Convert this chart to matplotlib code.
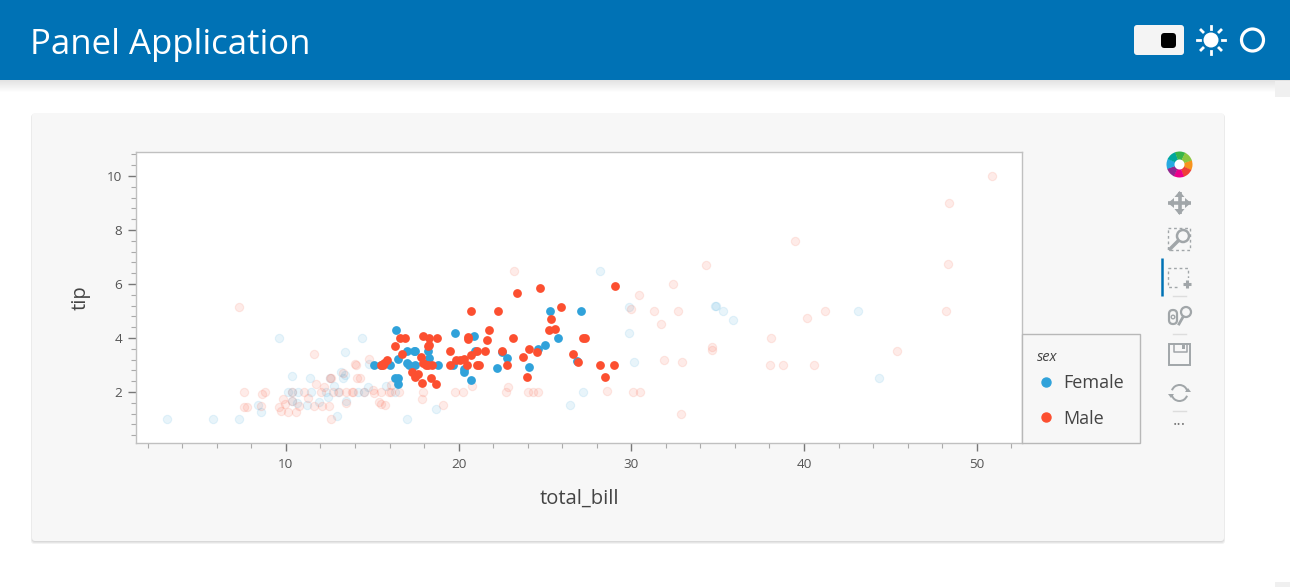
import matplotlib
matplotlib.use("Agg")
import matplotlib.pyplot as plt
from matplotlib.lines import Line2D
from matplotlib.patches import Rectangle, FancyBboxPatch, Circle, Wedge, Polygon
from matplotlib.ticker import MultipleLocator

plt.rcParams['font.family'] = ['Open Sans', 'DejaVu Sans']

# selected points
female_bill = [16.35, 15.1, 15.5, 16.0, 16.5, 17.0, 17.4, 17.5, 17.0, 17.1, 17.5, 16.3, 16.5, 16.47, 18.2, 18.3,
               18.8, 19.8, 20.9, 19.7, 20.3, 20.3, 20.7, 20.95, 22.2, 22.5, 22.8, 24.1, 24.6, 25.0, 25.75, 25.3,
               27.1, 26.87]
female_tip = [4.3, 3.0, 3.0, 3.0, 3.22, 3.5, 3.5, 3.5, 3.06, 3.0, 3.0, 2.5, 2.5, 2.3, 3.5, 3.25,
              3.0, 4.18, 4.08, 3.0, 2.84, 2.75, 2.45, 3.5, 2.9, 3.48, 3.26, 2.92, 3.6, 3.74, 4.0, 5.0,
              5.0, 3.15]
male_bill = [16.6, 16.87, 16.3, 15.85, 15.7, 15.5, 15.6, 16.7, 17.95, 18.3, 18.75, 18.3, 18.25, 17.8, 17.95, 18.09,
             18.24, 18.43, 17.3, 17.5, 17.65, 17.86, 18.4, 18.7, 19.5, 19.48, 19.85, 20.08, 20.33, 20.7, 20.48, 21.04,
             21.04, 21.2, 20.54, 20.56, 20.73, 21.62, 21.74, 21.54, 22.26, 22.53, 22.8, 23.15, 23.7, 24.09, 23.98, 23.38,
             24.73, 24.55, 25.23, 25.6, 25.33, 25.93, 27.2, 27.3, 26.6, 26.93, 28.2, 29.0, 28.47, 29.05]
male_tip = [4.0, 4.0, 3.7, 3.17, 3.06, 3.0, 3.0, 3.4, 4.07, 4.0, 4.0, 3.75, 3.7, 3.28, 3.06, 3.0,
            3.0, 3.0, 2.74, 2.56, 2.65, 2.33, 2.5, 2.3, 3.5, 3.0, 3.18, 3.17, 3.21, 3.36, 3.0, 3.5,
            3.0, 3.0, 4.03, 3.98, 5.0, 3.92, 4.3, 3.5, 5.0, 3.5, 3.0, 4.0, 3.31, 3.59, 2.55, 5.65,
            5.84, 3.48, 4.29, 4.33, 4.7, 5.16, 4.0, 4.0, 3.41, 3.11, 3.0, 3.0, 2.55, 5.92]

# points outside the selection
female_bill_faded = [3.1, 5.8, 7.3, 9.6, 14.4, 13.45, 10.33, 11.4, 12.53, 13.2, 13.3, 13.4, 10.12, 10.37, 10.68,
                     11.43, 12.3, 13.03, 14.2, 14.54, 14.75, 12.8, 12.45, 11.9, 13.46, 10.62, 11.2, 8.4, 8.55,
                     10.37, 12.94, 17.03, 14.83, 15.8, 16.3, 18.69, 28.2, 27.2, 26.45, 29.88, 29.84, 30.17,
                     34.83, 34.88, 35.3, 35.87, 43.14, 44.34]
female_tip_faded = [1.0, 1.0, 1.0, 4.0, 4.0, 3.48, 2.59, 2.5, 2.5, 2.74, 2.5, 2.62, 2.0, 2.0, 2.0,
                    2.0, 2.0, 2.0, 2.0, 2.0, 2.2, 2.23, 1.8, 1.64, 1.68, 1.6, 1.5, 1.5, 1.25,
                    1.68, 1.1, 1.0, 3.02, 2.22, 2.0, 1.37, 6.5, 2.0, 1.5, 5.14, 4.2, 3.1,
                    5.17, 5.2, 5.0, 4.67, 5.0, 2.5]
male_bill_faded = [7.3, 11.64, 13.98, 14.04, 14.83, 12.63, 12.53, 14.13, 14.3, 11.72, 12.2, 13.32, 7.55, 8.8, 8.63,
                   11.06, 12.05, 12.7, 13.09, 13.5, 13.84, 13.86, 14.54, 15.06, 15.08, 15.5, 15.99, 16.07, 16.07, 16.55,
                   17.94, 17.86, 9.81, 9.96, 9.6, 9.73, 10.1, 10.56, 10.35, 10.77, 11.28, 11.62, 12.07, 12.51, 12.63,
                   13.48, 15.41, 15.48, 15.73, 7.59, 7.76, 8.53, 10.37, 23.2, 20.8, 19.8, 20.27, 22.72, 22.86, 24.03,
                   24.3, 24.6, 28.59, 19.11, 29.96, 30.44, 31.3, 32.72, 31.73, 32.43, 34.34, 39.46, 48.38, 50.86, 48.32,
                   48.2, 41.2, 40.2, 38.1, 34.69, 34.65, 31.89, 32.93, 38.05, 38.76, 40.6, 45.38, 30.09, 30.5, 32.85]
male_tip_faded = [5.15, 3.39, 3.05, 3.0, 3.22, 2.5, 2.5, 2.5, 2.5, 2.31, 2.2, 2.72, 2.0, 2.0, 1.91,
                  2.0, 2.0, 2.0, 2.0, 2.0, 2.0, 2.0, 2.0, 2.07, 1.96, 2.0, 2.0, 2.0, 2.26, 2.0,
                  2.0, 1.74, 1.73, 1.56, 1.46, 1.31, 1.25, 1.25, 1.68, 1.48, 1.76, 1.49, 1.49, 1.49, 1.0,
                  1.6, 1.63, 1.54, 1.5, 1.44, 1.44, 1.48, 2.0, 6.5, 2.23, 2.0, 2.0, 2.0, 2.17, 2.0,
                  2.0, 2.0, 2.05, 1.5, 5.07, 5.6, 5.0, 5.0, 4.5, 6.0, 6.7, 7.58, 9.0, 10.0, 6.73,
                  5.0, 5.0, 4.73, 3.99, 3.68, 3.56, 3.19, 3.11, 3.0, 3.0, 3.0, 3.5, 2.0, 2.0, 1.17]

BLUE = '#30a2da'
RED = '#fc4f30'
GRAY = '#a1a6a9'

fig = plt.figure(figsize=(12.9, 5.87), dpi=100, facecolor='white')

# page furniture, in pixel coordinates
bg = fig.add_axes([0, 0, 1, 1], zorder=0)
bg.set_xlim(0, 1290)
bg.set_ylim(587, 0)
bg.axis('off')
for i in range(12):
    bg.add_patch(Rectangle((0, 80 + i), 1290, 1, color='black', alpha=0.11 * (1 - i / 12), lw=0))
bg.add_patch(Rectangle((0, 0), 1290, 80, color='#0072b5', lw=0))
bg.add_patch(Rectangle((1275, 81), 15, 16, color='#f0f0f0', lw=0))
bg.add_patch(Rectangle((1275, 582), 15, 5, color='#f0f0f0', lw=0))
for i in range(3):
    bg.add_patch(FancyBboxPatch((32 - i * 0.5, 114), 1192 + i, 428 + i, boxstyle='round,pad=0,rounding_size=3',
                                fc='black', alpha=0.05, lw=0))
bg.add_patch(FancyBboxPatch((32, 113), 1192, 428, boxstyle='round,pad=0,rounding_size=3', fc='#f7f7f7', lw=0))
bg.text(30, 44.5, 'Panel Application', color='white', fontsize=25, va='center', ha='left')

# header switch and icons
bg.add_patch(FancyBboxPatch((1134, 25), 50, 30, boxstyle='round,pad=0,rounding_size=3', fc='#f4f4f4', lw=0))
bg.add_patch(FancyBboxPatch((1161, 33), 15, 15, boxstyle='round,pad=0,rounding_size=3.5', fc='black', lw=0))
bg.add_patch(Circle((1211, 40), 7.5, fc='white', lw=0))
for a, b, c, d in [(1211, 26, 1211, 29), (1211, 51, 1211, 54), (1197, 40, 1200, 40), (1222, 40, 1225, 40),
                   (1201, 30, 1203, 32), (1219, 48, 1221, 50), (1201, 50, 1203, 48), (1219, 32, 1221, 30)]:
    bg.plot([a, c], [b, d], color='white', lw=2)
bg.add_patch(Circle((1252.5, 40), 11, fc='none', ec='white', lw=2.3))

# toolbar icons
wheel = ['#f7941d', '#ef4136', '#ec008c', '#92278f', '#27aae1', '#00a79d', '#39b54a', '#8dc63f']
for i, c in enumerate(wheel):
    bg.add_patch(Wedge((1179.5, 164.5), 13, 45 * i - 20, 45 * i + 27, width=8.5, fc=c, lw=0))
bg.add_patch(Circle((1179.5, 164.5), 5, fc='white', lw=0))
# move
bg.plot([1168, 1191], [203, 203], color=GRAY, lw=2.6, solid_capstyle='butt')
bg.plot([1179.5, 1179.5], [192, 214], color=GRAY, lw=2.6, solid_capstyle='butt')
for pts in [[(1168, 203), (1174, 198), (1174, 208)], [(1191, 203), (1185, 198), (1185, 208)],
            [(1179.5, 191), (1174.5, 197), (1184.5, 197)], [(1179.5, 215), (1174.5, 209), (1184.5, 209)]]:
    bg.add_patch(Polygon(pts, fc=GRAY, lw=0))
# box zoom
bg.add_patch(Rectangle((1168, 228), 22, 22, fc='none', ec=GRAY, lw=1, ls=(0, (2, 2))))
bg.add_patch(Circle((1183, 236), 6, fc='#f7f7f7', ec=GRAY, lw=1.8))
bg.plot([1178, 1170], [241, 249], color=GRAY, lw=2.5)
# box select, active
bg.plot([1162, 1162], [258, 296], color='#0072b5', lw=1.8, solid_capstyle='butt')
bg.add_patch(Rectangle((1168, 268), 20, 19, fc='none', ec=GRAY, lw=1, ls=(0, (2, 2))))
bg.add_patch(Rectangle((1180, 278), 12, 12, fc='#f7f7f7', lw=0))
bg.plot([1183, 1191], [284, 284], color=GRAY, lw=2.2, solid_capstyle='butt')
bg.plot([1187, 1187], [280, 288], color=GRAY, lw=2.2, solid_capstyle='butt')
bg.plot([1173, 1186], [296, 296], color='#dddddd', lw=1)
# wheel zoom
bg.add_patch(FancyBboxPatch((1169, 310), 8, 14, boxstyle='round,pad=0,rounding_size=4', fc='none', ec=GRAY, lw=1.6))
bg.add_patch(Circle((1173, 317), 1.8, fc='none', ec=GRAY, lw=1))
bg.add_patch(Circle((1186, 312), 5, fc='none', ec=GRAY, lw=1.6))
bg.plot([1183, 1179], [317, 324], color=GRAY, lw=2)
bg.plot([1173, 1186], [334, 334], color='#dddddd', lw=1)
# save
bg.add_patch(Rectangle((1169, 344), 21, 21, fc='none', ec=GRAY, lw=1.4))
bg.plot([1174, 1174, 1187, 1187], [344, 352, 352, 344], color=GRAY, lw=1.1)
bg.add_patch(Rectangle((1182, 345), 3, 4, fc=GRAY, lw=0))
# reset
bg.add_patch(Wedge((1179.5, 393), 9, 20, 165, width=2, fc=GRAY, lw=0))
bg.add_patch(Wedge((1179.5, 393), 9, 200, 345, width=2, fc=GRAY, lw=0))
bg.add_patch(Polygon([(1185, 392), (1191, 392), (1188, 388)], fc=GRAY, lw=0))
bg.add_patch(Polygon([(1168, 394), (1174, 394), (1171, 398)], fc=GRAY, lw=0))
bg.plot([1173, 1186], [411, 411], color='#dddddd', lw=1)
bg.text(1179.5, 421, '...', color='#777777', fontsize=12, ha='center', va='center')

# plot
ax = fig.add_axes([136 / 1290, 144 / 587, 886 / 1290, 291 / 587], zorder=1)
ax.set_facecolor('white')
for b, t, c in [(female_bill_faded, female_tip_faded, BLUE), (male_bill_faded, male_tip_faded, RED)]:
    ax.scatter(b, t, s=36, color=c, alpha=0.11, linewidths=0.8, zorder=2)
ax.scatter(female_bill, female_tip, s=40, color=BLUE, linewidths=0, zorder=3)
ax.scatter(male_bill, male_tip, s=40, color=RED, linewidths=0, zorder=3)

ax.set_xlim(1.32, 52.62)
ax.set_ylim(0.11, 10.89)
ax.xaxis.set_major_locator(MultipleLocator(10))
ax.xaxis.set_minor_locator(MultipleLocator(2))
ax.yaxis.set_major_locator(MultipleLocator(2))
ax.yaxis.set_minor_locator(MultipleLocator(0.4))
ax.tick_params(which='major', length=6, width=1, color='#777777', labelsize=9.7, labelcolor='#555555')
ax.tick_params(which='minor', length=3.5, width=0.8, color='#aaaaaa')
ax.tick_params(axis='x', which='major', pad=4.5)
ax.tick_params(axis='y', which='major', pad=4)
for s in ax.spines.values():
    s.set_color('#c0c0c0')
    s.set_linewidth(1.0)
ax.set_xlabel('total_bill', fontsize=14.5, color='#444444', labelpad=13)
ax.set_ylabel('tip', fontsize=14.5, color='#444444', labelpad=12)

handles = [Line2D([], [], ls='', marker='o', ms=6.5, color=BLUE, label='Female'),
           Line2D([], [], ls='', marker='o', ms=6.5, color=RED, label='Male')]
leg = ax.legend(handles=handles, title='sex', loc='lower left', bbox_to_anchor=(1.0, 0.0), borderaxespad=0,
                fancybox=False, framealpha=1, facecolor='#f7f7f7', edgecolor='#b8b8b8', fontsize=13,
                alignment='left', labelspacing=0.97, handlelength=0.95, handletextpad=0.5, borderpad=0.85,
                labelcolor='#444444')
leg.get_title().set_fontsize(10.5)
leg.get_title().set_fontstyle('italic')
leg.get_title().set_color('#444444')
leg._legend_box.sep = 6.8

fig.savefig('out.png', dpi=100)
